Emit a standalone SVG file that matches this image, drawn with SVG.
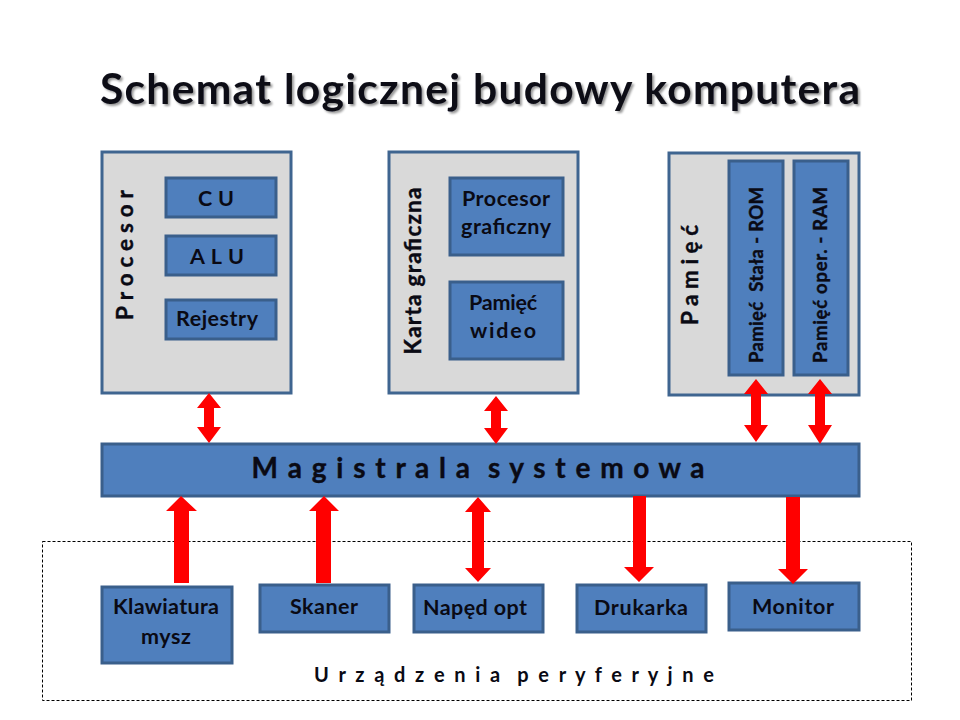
<svg xmlns="http://www.w3.org/2000/svg" width="960" height="720" viewBox="0 0 960 720">
<defs><filter id="sh" x="-5%" y="-20%" width="110%" height="140%"><feDropShadow dx="2" dy="2" stdDeviation="1" flood-color="#000" flood-opacity="0.4"/></filter></defs>
<style>
text{font-family:Lato,"Open Sans","Liberation Sans",sans-serif;font-weight:700;fill:#0a0a14;text-anchor:middle;white-space:pre}
.panel{fill:#d9d9d9;stroke:#3f6590;stroke-width:3}
.box{fill:#4f7fbd;stroke:#3a5f8b;stroke-width:3}
.a{fill:#ff0000}
.t{font-size:21.500px}
.r{stroke:#0a0a14;stroke-width:0.400}
</style>
<rect width="960" height="720" fill="#fff"/>
<text id="title" x="480" y="104" font-size="42.500" textLength="760" filter="url(#sh)">Schemat logicznej budowy komputera</text>
<g id="peripherals"><rect x="42.500" y="541.500" width="869" height="159" fill="none" stroke="#000" stroke-width="1" stroke-dasharray="3 2"/>
<text x="514" y="682" font-size="20" textLength="400">U r z ą d z e n i a  p e r y f e r y j n e</text></g>
<g id="procesor"><rect class="panel" x="102" y="152" width="189" height="241"/>
<text class="r" transform="translate(133,255) rotate(-90)" font-size="22.500" textLength="130">Procesor</text></g>
<g id="cu"><rect class="box" x="166" y="178" width="110" height="39"/><text class="t" x="216" y="206" textLength="36">C U</text></g>
<g id="alu"><rect class="box" x="166" y="236" width="110" height="39"/><text class="t" x="217" y="264" textLength="54">A L U</text></g>
<g id="rejestry"><rect class="box" x="166" y="300" width="110" height="39"/><text class="t" x="217" y="326" textLength="82">Rejestry</text></g>
<g id="karta"><rect class="panel" x="389" y="152" width="189" height="241"/>
<text class="r" transform="translate(421,271) rotate(-90)" font-size="22.500" textLength="167">Karta graficzna</text></g>
<g id="procesor-graficzny"><rect class="box" x="450" y="178" width="113" height="77"/><text class="t" x="506" y="206" textLength="88">Procesor</text><text class="t" x="506" y="234" textLength="90">graficzny</text></g>
<g id="pamiec-wideo"><rect class="box" x="450" y="282" width="113" height="77"/><text class="t" x="503" y="310" textLength="68">Pamięć</text><text class="t" x="503" y="338" textLength="66">wideo</text></g>
<g id="pamiec"><rect class="panel" x="669" y="153" width="190" height="242"/>
<text class="r" transform="translate(698,275) rotate(-90)" font-size="22.500" textLength="100">Pamięć</text></g>
<g id="rom"><rect class="box" x="729" y="161" width="54" height="214"/><text class="r" transform="translate(763,275) rotate(-90)" font-size="18.500" textLength="176">Pamięć  Stała - ROM</text></g>
<g id="ram"><rect class="box" x="794" y="161" width="54" height="214"/><text class="r" transform="translate(827,275) rotate(-90)" font-size="18.500" textLength="176">Pamięć oper. - RAM</text></g>
<g id="magistrala"><rect class="box" x="102" y="444" width="757" height="52"/><text class="r" x="478" y="478" font-size="28" textLength="453">M a g i s t r a l a  s y s t e m o w a</text></g>
<g id="klawiatura"><rect class="box" x="102" y="587" width="130" height="76"/><text class="t" x="166" y="614" textLength="106">Klawiatura</text><text class="t" x="166" y="644" textLength="50">mysz</text></g>
<g id="skaner"><rect class="box" x="260" y="585" width="129" height="47"/><text class="t" x="324" y="614" textLength="68">Skaner</text></g>
<g id="naped"><rect class="box" x="414" y="585" width="129" height="47"/><text class="t" x="475" y="615" textLength="104">Napęd opt</text></g>
<g id="drukarka"><rect class="box" x="577" y="585" width="129" height="47"/><text class="t" x="641" y="615" textLength="94">Drukarka</text></g>
<g id="monitor"><rect class="box" x="729" y="583" width="130" height="47"/><text class="t" x="793" y="614" textLength="82">Monitor</text></g>
<g id="connectors">
<path class="a" d="M209 393L221 408H214V427H221L209 443L197 427H204V408H197Z"/>
<path class="a" d="M496 396L508 411H501V428H508L496 444L484 428H491V411H484Z"/>
<path class="a" d="M756 379L768 394H761V425H768L756 442L744 425H751V394H744Z"/>
<path class="a" d="M820 379L832 394H825V425H832L820 444L808 425H815V394H808Z"/>
<path class="a" d="M181 496L197 511H189V583H174V511H166Z"/>
<path class="a" d="M324 496L339 511H331V583H316V511H309Z"/>
<path class="a" d="M478 497L491 512H484V568H491L478 582L465 568H472V512H465Z"/>
<path class="a" d="M639 582L654 567H646V496H633V567H624Z"/>
<path class="a" d="M793 584L808 569H800V497H786V569H778Z"/>
</g>
</svg>
